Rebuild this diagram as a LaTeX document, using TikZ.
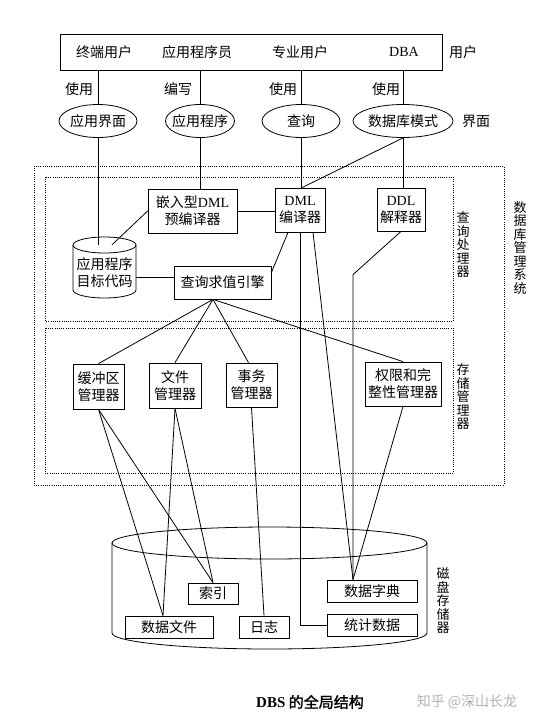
\documentclass[tikz,border=0pt]{standalone}
\usepackage{fontspec}
\setmainfont{Liberation Serif}
\newfontfamily\cjk{Noto Sans CJK SC}
\newfontfamily\cjkbf[FakeBold=1.5]{Noto Sans CJK SC}
\usetikzlibrary{shapes.geometric,calc}
\tikzset{
  base/.style={font=\cjk\fontsize{14}{17}\selectfont, inner sep=0pt, align=center},
  box/.style={base, draw, line width=0.8pt, rectangle},
  oval/.style={draw, line width=0.8pt, ellipse, inner sep=0pt},
  vlbl/.style={font=\cjk\fontsize{13}{13.5}\selectfont, inner sep=0pt, align=center},
  conn/.style={line width=0.8pt},
  dotbox/.style={line width=0.7pt, dash pattern=on 0.8pt off 1.4pt},
}
\begin{document}
\begin{tikzpicture}[x=1pt,y=1pt]
\useasboundingbox (0,0) rectangle (539,-723);
\fill[white] (0,0) rectangle (539,-723);

% dotted frames
\draw[dotbox] (34,-166) rectangle (504,-485);
\draw[dotbox] (45,-177) rectangle (453,-321);
\draw[dotbox] (45,-328) rectangle (453,-473);

% users
\node[box, minimum width=382pt, minimum height=36pt] (users) at (251,-52) {};
\node[base] (u1) at (104,-52) {终端用户};
\node[base] (u2) at (197,-52) {应用程序员};
\node[base] (u3) at (300,-52) {专业用户};
\node[base] (u4) at (404,-52) {\rmfamily DBA};
\node[base] (ulbl) at (463,-52) {用户};

% interfaces
\node[oval, minimum width=78pt, minimum height=33pt] (e1) at (98,-121) {};
\node[base] (e1t) at (e1) {应用界面};
\node[oval, minimum width=69pt, minimum height=33pt] (e2) at (200,-121) {};
\node[base] (e2t) at (e2) {应用程序};
\node[oval, minimum width=78pt, minimum height=33pt] (e3) at (301,-121) {};
\node[base] (e3t) at (e3) {查询};
\node[oval, minimum width=100pt, minimum height=33pt] (e4) at (403,-121) {};
\node[base] (e4t) at (e4) {数据库模式};
\node[base] (ilbl) at (476,-121) {界面};

\node[base] (s1) at (79,-89) {使用};
\node[base] (s2) at (178,-89) {编写};
\node[base] (s3) at (283,-89) {使用};
\node[base] (s4) at (386,-89) {使用};

% vertical labels
\node[vlbl] (dbms) at (520,-248) {数\\据\\库\\管\\理\\系\\统};
\node[vlbl] (qp) at (463,-245) {查\\询\\处\\理\\器};
\node[vlbl] (sm) at (463,-397) {存\\储\\管\\理\\器};
\node[vlbl] (dsk) at (443,-601) {磁\\盘\\存\\储\\器};

% query processor
\node[box, minimum width=89pt, minimum height=44pt] (emb) at (192.5,-211) {嵌入型{\rmfamily DML}\\预编译器};
\node[box, minimum width=50pt, minimum height=44pt] (dml) at (300,-210) {{\rmfamily DML}\\编译器};
\node[box, minimum width=48pt, minimum height=43pt] (ddl) at (401,-209.5) {{\rmfamily DDL}\\解释器};
\draw[line width=0.8pt] (104.5,-245) ellipse [x radius=31.5pt, y radius=8pt];
\draw[line width=0.8pt] (73,-245) -- (73,-290) arc[start angle=180, end angle=360, x radius=31.5pt, y radius=8pt] -- (136,-245);
\node[base, minimum width=63pt, minimum height=50pt] (app) at (104.5,-273) {应用程序\\目标代码};
\node[box, minimum width=97pt, minimum height=33pt] (engine) at (222.5,-282.5) {查询求值引擎};

% storage manager
\node[box, minimum width=51pt, minimum height=45pt] (buf) at (98.5,-386.5) {缓冲区\\管理器};
\node[box, minimum width=52pt, minimum height=45pt] (file) at (175,-385.5) {文件\\管理器};
\node[box, minimum width=51pt, minimum height=44pt] (txn) at (251.5,-385) {事务\\管理器};
\node[box, minimum width=76pt, minimum height=44pt] (auth) at (403,-384) {权限和完\\整性管理器};

% disk
\draw[line width=0.8pt] (269.5,-543) ellipse [x radius=157.5pt, y radius=16pt];
\draw[line width=0.8pt] (112,-543) -- (112,-633) arc[start angle=180, end angle=360, x radius=157.5pt, y radius=16pt] -- (427,-543);
\node[box, minimum width=50pt, minimum height=21pt] (idx) at (213,-593.5) {索引};
\node[box, minimum width=88pt, minimum height=22pt] (df) at (169,-627) {数据文件};
\node[box, minimum width=50pt, minimum height=22pt] (log) at (264,-627) {日志};
\node[box, minimum width=90pt, minimum height=22pt] (dict) at (372,-591) {数据字典};
\node[box, minimum width=90pt, minimum height=22pt] (stat) at (372,-625) {统计数据};

% connectors
\foreach \e in {e1,e2,e3,e4} \draw[conn] (users.south -| \e) -- (\e.north);
\draw[conn] (e1.south) -- ($(e1.south |- app.north)+(0,3)$);
\draw[conn] (e2.south) -- (e2.south |- emb.north);
\draw[conn] (e3.south) -- (e3.south |- dml.north);
\draw[conn] (e4.south) -- ($(dml.north)+(2,0)$);
\draw[conn] (e4.south) -- (e4.south |- ddl.north);
\draw[conn] (emb.west) -- ($(app.north)+(7.5,3)$);
\draw[conn] (emb.east) -- (emb.east -| dml.west);
\draw[conn] ($(app.east)+(0,-4)$) -- ($(engine.west)+(0,5.5)$);
\draw[conn] ($(dml.south)+(-12,0)$) -- ($(engine.east)+(0,10)$);
\draw[conn] (dml.south) |- (stat.west);
\coordinate (dictin) at ($(dict.north)+(-19,0)$);
\draw[conn] ($(dml.south)+(13,0)$) -- (dictin);
\draw[conn] (ddl.south) -- ($(dictin)+(0,305)$) -- (dictin);
\draw[conn] (auth.south) -- (dictin);
\coordinate (fan) at ($(engine.south)+(-9.5,0)$);
\draw[conn] (fan) -- (buf.north);
\draw[conn] (fan) -- (file.north);
\draw[conn] (fan) -- ($(txn.north)+(-3,0)$);
\draw[conn] (fan) -- (auth.north);
\coordinate (dfin) at ($(df.north)+(-6,0)$);
\draw[conn] (buf.south) -- (dfin);
\draw[conn] (buf.south) -- (idx.north);
\draw[conn] (file.south) -- (dfin);
\draw[conn] (file.south) -- (idx.north);
\draw[conn] (txn.south) -- (log.north);

% caption
\node[font=\cjkbf\fontsize{15}{17}\selectfont, inner sep=0pt] (cap) at (310,-702) {{\rmfamily\bfseries DBS} 的全局结构};
\node[font=\cjk\fontsize{14}{17}\selectfont, text=black!30, inner sep=0pt] (wm) at (467,-702) {知乎 @深山长龙};
\end{tikzpicture}
\end{document}
